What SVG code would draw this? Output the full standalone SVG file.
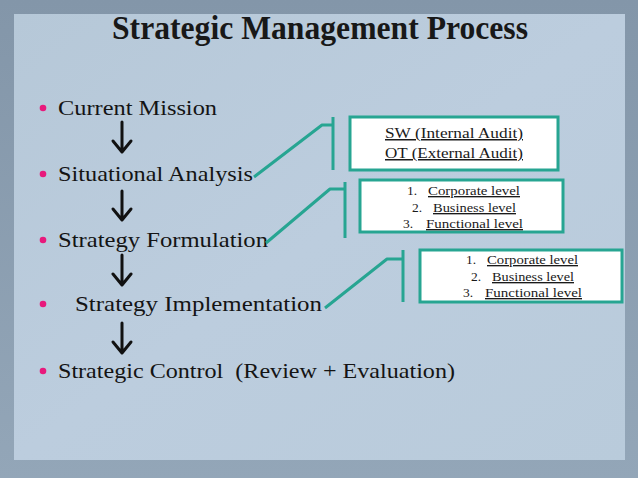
<svg xmlns="http://www.w3.org/2000/svg" width="638" height="478" viewBox="0 0 638 478">
  <defs>
    <style>
      .title { font-family: "Liberation Serif", "DejaVu Serif", serif; font-size: 34px; font-weight: bold; fill: #181818; }
      .item { font-family: "Liberation Serif", "DejaVu Serif", serif; font-size: 21px; fill: #141414; }
      .box { fill: #ffffff; stroke: #27a592; stroke-width: 3; }
      .btxt { font-family: "Liberation Serif", "DejaVu Serif", serif; font-size: 15px; fill: #1a1a1a; }
      .ltxt { font-family: "Liberation Serif", "DejaVu Serif", serif; font-size: 13.5px; fill: #1a1a1a; }
      .conn { fill: none; stroke: #27a592; stroke-width: 3; stroke-linejoin: round; }
      .arrow { fill: none; stroke: #111111; stroke-width: 3; stroke-linecap: round; stroke-linejoin: round; }
      .dot { fill: #e8197c; }
    </style>
    <linearGradient id="bg" x1="0" y1="0" x2="0" y2="1">
      <stop offset="0" stop-color="#8396a9"/>
      <stop offset="1" stop-color="#93a6b8"/>
    </linearGradient>
    <linearGradient id="panel" x1="0" y1="0" x2="1" y2="1">
      <stop offset="0" stop-color="#b6c8d8"/>
      <stop offset="0.5" stop-color="#bccdde"/>
      <stop offset="1" stop-color="#b9cbdb"/>
    </linearGradient>
  </defs>

  <rect x="0" y="0" width="638" height="478" fill="url(#bg)"/>
  <rect x="14" y="14" width="611" height="446" fill="url(#panel)"/>

  <text class="title" x="112" y="39" textLength="416" lengthAdjust="spacingAndGlyphs">Strategic Management Process</text>

  <g id="current-mission">
    <circle class="dot" cx="43" cy="108" r="3.3"/>
    <text class="item" x="58" y="115" textLength="159" lengthAdjust="spacingAndGlyphs">Current Mission</text>
  </g>
  <g id="situational-analysis">
    <circle class="dot" cx="43" cy="174" r="3.3"/>
    <text class="item" x="58" y="181" textLength="195" lengthAdjust="spacingAndGlyphs">Situational Analysis</text>
  </g>
  <g id="strategy-formulation">
    <circle class="dot" cx="43" cy="240" r="3.3"/>
    <text class="item" x="58" y="247" textLength="210" lengthAdjust="spacingAndGlyphs">Strategy Formulation</text>
  </g>
  <g id="strategy-implementation">
    <circle class="dot" cx="43" cy="304" r="3.3"/>
    <text class="item" x="75" y="311" textLength="247" lengthAdjust="spacingAndGlyphs">Strategy Implementation</text>
  </g>
  <g id="strategic-control">
    <circle class="dot" cx="43" cy="371" r="3.3"/>
    <text class="item" x="58" y="378" textLength="397" lengthAdjust="spacingAndGlyphs" xml:space="preserve">Strategic Control  (Review + Evaluation)</text>
  </g>

  <g id="box-analysis">
    <rect class="box" x="350" y="117" width="208" height="53"/>
    <text class="btxt" x="454" y="138" text-anchor="middle" text-decoration="underline" textLength="138" lengthAdjust="spacingAndGlyphs">SW (Internal Audit)</text>
    <text class="btxt" x="454" y="158" text-anchor="middle" text-decoration="underline" textLength="138" lengthAdjust="spacingAndGlyphs">OT (External Audit)</text>
  </g>

  <g id="box-formulation">
    <rect class="box" x="360" y="180" width="203" height="52"/>
    <text class="ltxt" x="407" y="195">1.</text>
    <text class="ltxt" x="428" y="195" text-decoration="underline" textLength="92" lengthAdjust="spacingAndGlyphs">Corporate level</text>
    <text class="ltxt" x="412" y="212">2.</text>
    <text class="ltxt" x="433" y="212" text-decoration="underline" textLength="83" lengthAdjust="spacingAndGlyphs">Business level</text>
    <text class="ltxt" x="403" y="228">3.</text>
    <text class="ltxt" x="426" y="228" text-decoration="underline" textLength="97" lengthAdjust="spacingAndGlyphs">Functional level</text>
  </g>

  <g id="box-implementation">
    <rect class="box" x="420" y="250" width="202" height="52"/>
    <text class="ltxt" x="466" y="264">1.</text>
    <text class="ltxt" x="487" y="264" text-decoration="underline" textLength="91" lengthAdjust="spacingAndGlyphs">Corporate level</text>
    <text class="ltxt" x="471" y="281">2.</text>
    <text class="ltxt" x="492" y="281" text-decoration="underline" textLength="82" lengthAdjust="spacingAndGlyphs">Business level</text>
    <text class="ltxt" x="463" y="297">3.</text>
    <text class="ltxt" x="485" y="297" text-decoration="underline" textLength="97" lengthAdjust="spacingAndGlyphs">Functional level</text>
  </g>

  <g id="connectors">
    <path class="arrow" d="M122 122 V151 M113 141 L122 152 L131 141"/>
    <path class="arrow" d="M122 191 V219 M113 209 L122 220 L131 209"/>
    <path class="arrow" d="M122 255 V284 M113 274 L122 285 L131 274"/>
    <path class="arrow" d="M122 323 V352 M113 342 L122 353 L131 342"/>

    <path class="conn" d="M254 177 L322 125 H333"/>
    <path class="conn" d="M333 117 V170"/>
    <path class="conn" d="M266 243 L330 189 H345"/>
    <path class="conn" d="M345 182 V238"/>
    <path class="conn" d="M325 308 L387 259 H403"/>
    <path class="conn" d="M403 250 V302"/>
  </g>
</svg>
